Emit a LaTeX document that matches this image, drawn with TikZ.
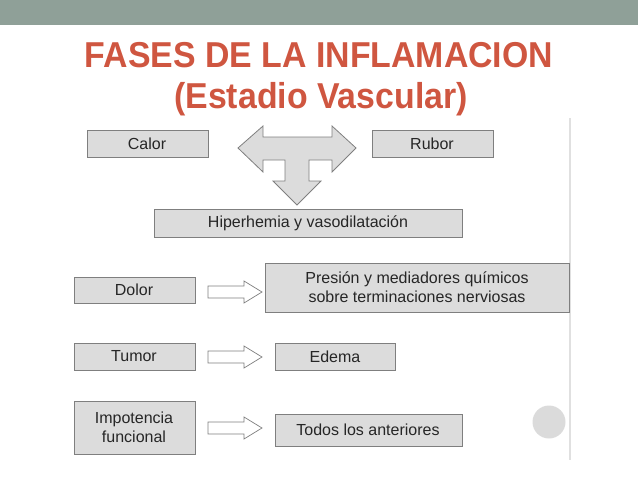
\documentclass[tikz,border=0pt]{standalone}
\usepackage{fontspec}
\setmainfont{Liberation Sans}
\definecolor{bar}{HTML}{8FA098}
\definecolor{ttl}{HTML}{CF5640}
\definecolor{bx}{HTML}{DCDCDC}
\definecolor{bd}{HTML}{7F7F7F}
\begin{document}
\begin{tikzpicture}[x=1pt,y=-1pt,
  bxs/.style={draw=bd,fill=bx,line width=0.8pt},
  txt/.style={font=\fontsize{16}{19}\selectfont,align=center,text=black!85},
  arr/.style={draw=bd,fill=white,line width=0.7pt}]
\useasboundingbox (0,0) rectangle (638,479);
\fill[bar] (0,0) rectangle (638,25);
\node[text=ttl,font=\bfseries\fontsize{36}{40}\selectfont,xscale=0.94] (t1) at (319,55) {FASES DE LA INFLAMACION};
\node[text=ttl,font=\bfseries\fontsize{36}{40}\selectfont,xscale=0.94] (t2) at (321,99) {(Estadio Vascular)};
\draw[black!12,line width=1.2pt] (570,118) -- (570,460);
\fill[black!14] (549,422) circle (16.5);
% boxes
\draw[bxs] (87,130) rectangle (208,157); \node[txt] (calor) at (147,143.5) {Calor};
\draw[bxs] (372,130) rectangle (493,157); \node[txt] (rubor) at (432,143.5) {Rubor};
\draw[bxs] (154,209) rectangle (462,237); \node[txt] (hip) at (308,223) {Hiperhemia y vasodilatación};
\draw[bxs] (74,277) rectangle (195,303); \node[txt] (dolor) at (134,290) {Dolor};
\draw[bxs] (265,263) rectangle (569,312); \node[txt] (pres) at (417,287.5) {Presión y mediadores químicos\\sobre terminaciones nerviosas};
\draw[bxs] (74,343) rectangle (195,370); \node[txt] (tumor) at (134,356.5) {Tumor};
\draw[bxs] (275,343) rectangle (395,370); \node[txt] (edema) at (335,356.5) {Edema};
\draw[bxs] (74,401) rectangle (195,454); \node[txt] (imp) at (134,427.5) {Impotencia\\funcional};
\draw[bxs] (275,414) rectangle (462,446); \node[txt] (todos) at (368,430) {Todos los anteriores};
% T arrow
\draw[draw=bd,fill=bx,line width=0.8pt,line join=miter]
 (238,148) -- (263,126) -- (263,137) -- (332,137) -- (332,126) -- (356,148)
 -- (332,172) -- (332,160) -- (309,160) -- (309,181) -- (321,181) -- (297,205)
 -- (273,181) -- (285,181) -- (285,160) -- (263,160) -- (263,172) -- cycle;
% block arrows
\foreach \yy in {292,357,428}{
 \draw[arr] (208,\yy-6) -- (244,\yy-6) -- (244,\yy-11) -- (262,\yy) -- (244,\yy+11) -- (244,\yy+6) -- (208,\yy+6) -- cycle;}
\end{tikzpicture}
\end{document}
